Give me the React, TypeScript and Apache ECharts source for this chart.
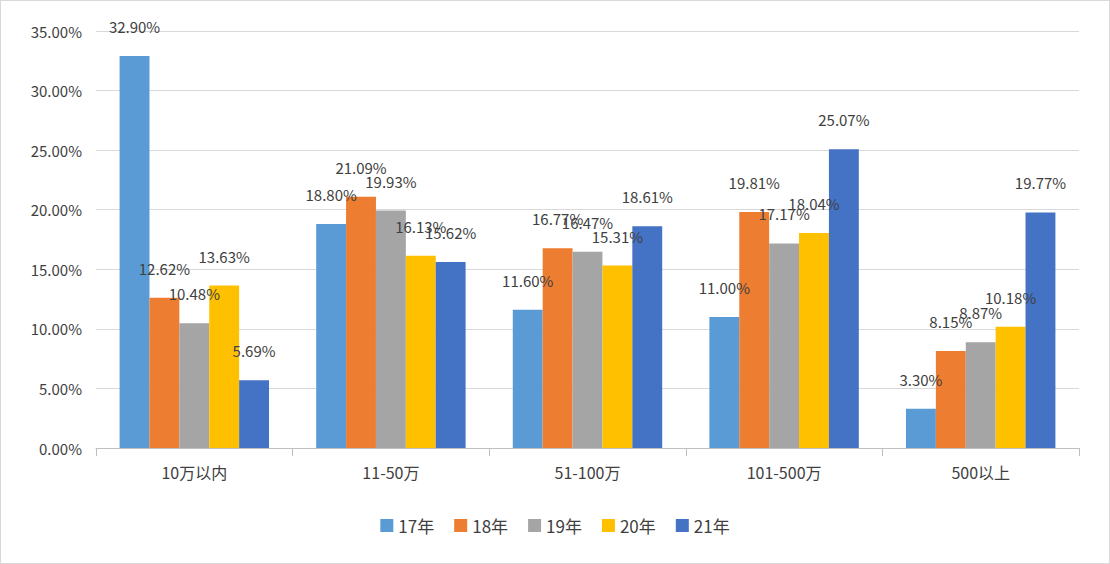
import React, { useEffect, useRef } from "react";
import * as echarts from "echarts";

const categories = ["10万以内", "11-50万", "51-100万", "101-500万", "500以上"];
const seriesNames = ["17年", "18年", "19年", "20年", "21年"];
const s17 = [32.9, 18.8, 11.6, 11.0, 3.3];
const s18 = [12.62, 21.09, 16.77, 19.81, 8.15];
const s19 = [10.48, 19.93, 16.47, 17.17, 8.87];
const s20 = [13.63, 16.13, 15.31, 18.04, 10.18];
const s21 = [5.69, 15.62, 18.61, 25.07, 19.77];
const colors = ["#5B9BD5", "#ED7D31", "#A5A5A5", "#FFC000", "#4472C4"];

export default function App() {
  const ref = useRef<HTMLDivElement>(null);
  useEffect(() => {
    if (!ref.current) return;
    const chart = echarts.init(ref.current, undefined, { renderer: "svg" });
    const data = [s17, s18, s19, s20, s21];
    chart.setOption({
      animation: false,
      textStyle: { fontFamily: "Noto Sans CJK SC, Noto Sans, sans-serif" },
      grid: { left: 95, right: 30, top: 30, bottom: 115, containLabel: false },
      legend: {
        data: seriesNames,
        bottom: 24,
        left: "center",
        itemWidth: 13,
        itemHeight: 13,
        itemGap: 20,
        icon: "rect",
        textStyle: { fontSize: 17, color: "#404040" },
      },
      xAxis: {
        type: "category",
        data: categories,
        axisLine: { lineStyle: { color: "#BFBFBF" } },
        axisTick: { show: true, length: 8, lineStyle: { color: "#BFBFBF" } },
        axisLabel: { fontSize: 16, color: "#404040", margin: 16 },
      },
      yAxis: {
        type: "value",
        min: 0,
        max: 35,
        interval: 5,
        axisLine: { show: false },
        axisTick: { show: false },
        splitLine: { lineStyle: { color: "#D9D9D9" } },
        axisLabel: {
          fontSize: 15,
          color: "#404040",
          margin: 14,
          formatter: (v: number) => v.toFixed(2) + "%",
        },
      },
      series: data.map((d, i) => ({
        name: seriesNames[i],
        type: "bar",
        data: d,
        barGap: "0%",
        barCategoryGap: "24%",
        itemStyle: { color: colors[i] },
        label: {
          show: true,
          position: "top",
          distance: 22,
          fontSize: 15,
          color: "#404040",
          formatter: (p: any) => p.value.toFixed(2) + "%",
        },
      })),
    });
    return () => chart.dispose();
  }, []);
  return (
    <div
      ref={ref}
      style={{
        position: "absolute",
        left: 0,
        top: 0,
        width: 1110,
        height: 564,
        background: "#fff",
        boxSizing: "border-box",
        border: "1px solid #D9D9D9",
      }}
    />
  );
}
